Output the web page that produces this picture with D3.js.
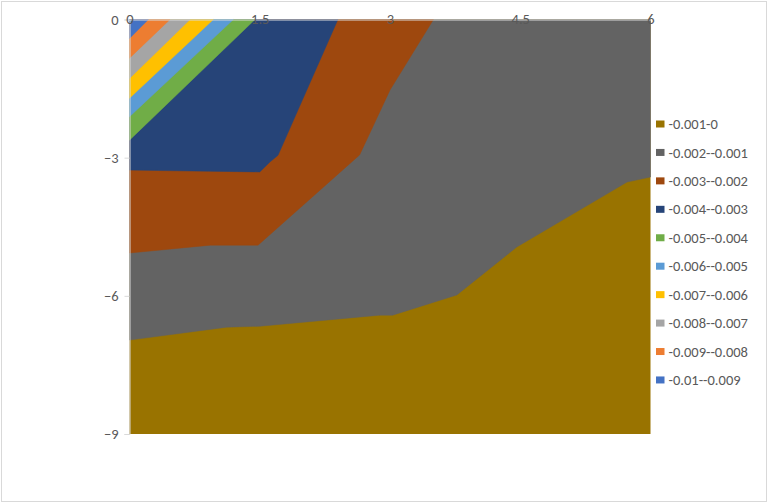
<!DOCTYPE html>
<html>
<head>
<meta charset="utf-8">
<script src="https://cdn.jsdelivr.net/npm/d3@7"></script>
<style>
  body { margin: 0; background: #fff; }
  text { font-family: Calibri, Carlito, "Liberation Sans", sans-serif; fill: #595959; }
</style>
</head>
<body>
<script>
// tick labels
var xTicks = [0, 1.5, 3, 4.5, 6];
var yTicks = [0, -3, -6, -9];

// legend (top to bottom)
var bandLabels = ["-0.001-0", "-0.002--0.001", "-0.003--0.002", "-0.004--0.003", "-0.005--0.004",
  "-0.006--0.005", "-0.007--0.006", "-0.008--0.007", "-0.009--0.008", "-0.01--0.009"];
var bandColors = ["#997300", "#636363", "#9E480E", "#264478", "#70AD47",
  "#5B9BD5", "#FFC000", "#A5A5A5", "#ED7D31", "#4472C4"];

// contour edges, [x, y]
// edge1 is between band 0 and band 1, edge2 between band 1 and band 2 ...
var edge1 = [[0, -6.96], [1.12, -6.68], [1.5, -6.66], [2.88, -6.42], [3.03, -6.42], [3.77, -5.98], [4.46, -4.94], [5.73, -3.53], [6, -3.42]];
var edge2 = [[0, -5.07], [0.93, -4.9], [1.48, -4.9], [2.65, -2.94], [3.0, -1.53], [3.5, 0]];
var edge3 = [[0, -3.27], [1.5, -3.31], [1.62, -3.09], [1.71, -2.95], [2.4, 0]];
var edge4 = [[0, -2.62], [1.445, 0]];
var edge5 = [[0, -2.11], [1.196, 0]];
var edge6 = [[0, -1.71], [0.965, 0]];
var edge7 = [[0, -1.28], [0.697, 0]];
var edge8 = [[0, -0.84], [0.466, 0]];
var edge9 = [[0, -0.41], [0.217, 0]];
var edges = [edge1, edge2, edge3, edge4, edge5, edge6, edge7, edge8, edge9];

var w = 768;
var h = 503;
var plotLeft = 129.5, plotRight = 650.5, plotTop = 19.5, plotBottom = 434;

var svg = d3.select("body").append("svg").attr("width", w).attr("height", h);

// outer frame
svg.append("rect")
  .attr("x", 1.5).attr("y", 1.5).attr("width", w - 3).attr("height", h - 3)
  .attr("fill", "#fff").attr("stroke", "#D9D9D9");

var x = d3.scaleLinear().domain([0, 6]).range([plotLeft, plotRight]);
var y = d3.scaleLinear().domain([0, -9]).range([plotTop, plotBottom]);

var line = d3.line().x(function(d){ return x(d[0]); }).y(function(d){ return y(d[1]); });

// base band fills the whole plot
svg.append("rect")
  .attr("x", x(0)).attr("y", y(0))
  .attr("width", x(6) - x(0)).attr("height", y(-9) - y(0))
  .attr("fill", bandColors[0]);

// each edge closes toward the top-left corner, painted over the previous band
svg.selectAll("path.band").data(edges).enter().append("path")
  .attr("class", "band")
  .attr("d", function(d){
    var pts = d.slice();
    var last = pts[pts.length - 1];
    if (last[0] == 6 && last[1] < 0) {
      pts.push([6, 0]);
    }
    pts.push([0, 0]);
    return line(pts) + "Z";
  })
  .attr("fill", function(d, i){ return bandColors[i + 1]; })
  .attr("stroke", function(d, i){ return bandColors[i + 1]; })
  .attr("stroke-width", 0.5);

// axes
var yAxis = d3.axisLeft(y).tickValues(yTicks).tickSize(5).tickPadding(6);
var gy = svg.append("g").attr("transform", "translate(" + plotLeft + ",0)").call(yAxis);
gy.select(".domain").attr("stroke", "#D9D9D9");
gy.selectAll(".tick line").attr("stroke", "#D9D9D9");
gy.selectAll(".tick text").style("font-size", "14.5px").attr("fill", "#595959");

var xAxis = d3.axisTop(x).tickValues(xTicks).tickSize(0).tickPadding(0)
  .tickFormat(function(d){ return d; });
var gx = svg.append("g").attr("transform", "translate(0," + plotTop + ")").call(xAxis);
gx.select(".domain").attr("stroke", "#D9D9D9");
gx.selectAll(".tick text").attr("dy", "0.32em").attr("y", 0)
  .style("font-size", "14.5px").attr("fill", "#595959");

// legend
var legend = svg.selectAll("g.legend").data(bandLabels).enter().append("g")
  .attr("class", "legend")
  .attr("transform", function(d, i){ return "translate(656," + (124 + i * 28.44) + ")"; });
legend.append("rect")
  .attr("x", 0).attr("y", -3.5).attr("width", 8.5).attr("height", 7)
  .attr("fill", function(d, i){ return bandColors[i]; });
legend.append("text")
  .attr("x", 12.5).attr("y", 0).attr("dy", "0.35em")
  .style("font-size", "14.5px")
  .text(function(d){ return d; });
</script>
</body>
</html>
